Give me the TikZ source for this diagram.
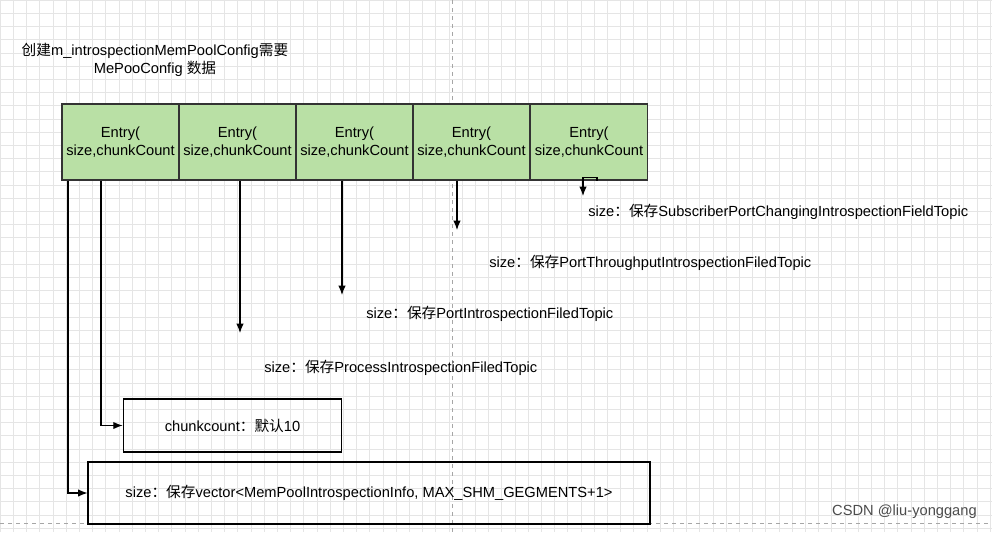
\documentclass[tikz,border=0pt]{standalone}
\usepackage{fontspec}
\setmainfont{Liberation Sans}
\newfontfamily\cjk{Noto Sans CJK SC}
\usetikzlibrary{arrows.meta}
\definecolor{entryfill}{HTML}{B9E0A5}
\begin{document}
\begin{tikzpicture}[x=0.75pt,y=-0.75pt,
  cell/.style={draw=black!80,fill=entryfill,line width=0.8pt,minimum width=87.75pt,minimum height=57pt,inner sep=0pt,align=center,font=\fontsize{11}{13.5}\selectfont},
  box/.style={draw=black,line width=0.8pt,inner sep=0pt,font=\fontsize{11}{13}\selectfont},
  lbl/.style={font=\fontsize{11}{13.5}\selectfont,inner sep=0pt},
  arr/.style={draw=black,line width=0.8pt,-{Latex[length=7pt,width=5.5pt]}}]
\useasboundingbox (0,0) rectangle (992,532);
\fill[white] (0,0) rectangle (992,532);
\foreach \i in {0,...,76} {\draw[black!10,line width=0.4pt] (\i*13.2,0) -- (\i*13.2,532);}
\foreach \j in {0,...,40} {\draw[black!10,line width=0.4pt] (0,\j*13.2) -- (992,\j*13.2);}
\draw[black!35,dashed,line width=0.6pt] (452,0) -- (452,532);
\draw[black!35,dashed,line width=0.6pt] (0,523) -- (992,523);
\node[lbl,align=center] (title) at (155,60) {{\cjk 创建}m\_introspectionMemPoolConfig{\cjk 需要}\\MePooConfig {\cjk 数据}};
\foreach \k/\x in {1/120.5,2/237.5,3/354.5,4/471.5,5/589} {
  \node[cell] (e\k) at (\x,142) {Entry(\\size,chunkCount};
}
\node[box,minimum width=164pt,minimum height=39.75pt] (cc) at (232.5,425.5) {chunkcount{\cjk ：默认}10};
\node[box,minimum width=421.5pt,minimum height=46.5pt] (sz) at (369,493) {size{\cjk ：保存}vector<MemPoolIntrospectionInfo, MAX\_SHM\_GEGMENTS+1>};
\coordinate (t5) at (583,196);
\coordinate (t4) at (457,230);
\coordinate (t3) at (342,295);
\coordinate (t2) at (240,333);
\draw[arr] (e5.south -| 597,0) -- ++(0,-3) -| (t5);
\draw[arr] (e4.south -| t4) -- (t4);
\draw[arr] (e3.south -| t3) -- (t3);
\draw[arr] (e2.south -| t2) -- (t2);
\draw[arr] (e1.south -| 101,0) |- (cc.west);
\draw[arr] (e1.south -| 68,0) |- (sz.west);
\node[lbl,anchor=west] (l5) at (588,212) {size{\cjk ：保存}SubscriberPortChangingIntrospectionFieldTopic};
\node[lbl,anchor=west] (l4) at (489,263) {size{\cjk ：保存}PortThroughputIntrospectionFiledTopic};
\node[lbl,anchor=west] (l3) at (366,314) {size{\cjk ：保存}PortIntrospectionFiledTopic};
\node[lbl,anchor=west] (l2) at (264,368) {size{\cjk ：保存}ProcessIntrospectionFiledTopic};
\node[lbl,anchor=east,text=black!70] (wm) at (977,512) {CSDN @liu-yonggang};
\end{tikzpicture}
\end{document}
